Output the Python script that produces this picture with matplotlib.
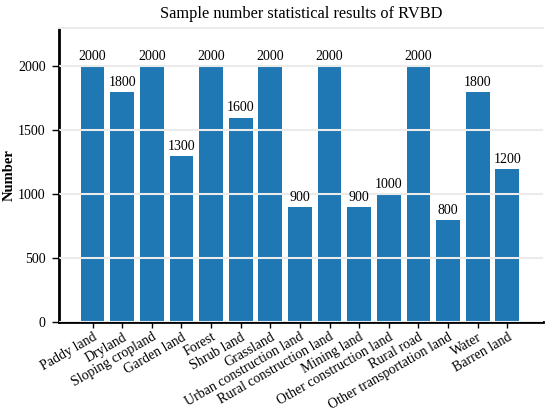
import matplotlib
matplotlib.use("Agg")
import matplotlib.pyplot as plt

categories = ["Paddy land", "Dryland", "Sloping cropland", "Garden land", "Forest",
              "Shrub land", "Grassland", "Urban construction land",
              "Rural construction land", "Mining land", "Other construction land",
              "Rural road", "Other transportation land", "Water", "Barren land"]
counts = [2000, 1800, 2000, 1300, 2000, 1600, 2000, 900, 2000, 900, 1000, 2000, 800, 1800, 1200]
yticks = [0, 500, 1000, 1500, 2000]

plt.rcParams['font.family'] = ['Liberation Serif', 'DejaVu Serif']

fig = plt.figure(figsize=(5.5, 4.12), dpi=100)
ax = fig.add_axes([0.108, 0.218, 0.879, 0.714])

xs = range(len(categories))
ax.bar(xs, counts, width=0.8, color='#1f77b4', zorder=1)
for x, v in zip(xs, counts):
    ax.text(x, v + 25, str(v), ha='center', va='bottom', fontsize=10)

ax.set_xlim(-1.12, 15.2)
ax.set_ylim(0, 2300)
ax.set_yticks(yticks)
ax.set_xticks(list(xs))
ax.set_xticklabels(categories, rotation=30, ha='right', rotation_mode='anchor', fontsize=10)
ax.tick_params(axis='y', labelsize=10, length=5, width=1, pad=5)
ax.tick_params(axis='x', length=4, width=1, pad=2)
ax.grid(axis='y', color='#ebebeb', linewidth=1.5, zorder=3)
ax.set_axisbelow(False)

ax.spines['right'].set_visible(False)
ax.spines['top'].set_color('#ebebeb')
ax.spines['top'].set_linewidth(1.5)
ax.spines['left'].set_linewidth(2)
ax.spines['bottom'].set_linewidth(2)

# y label placed by hand so it sits near the left edge like the original
fig.text(9 / 550, 0.575, "Number", rotation=90, ha='center', va='center',
         fontsize=10.5, fontweight='bold')
ax.set_title("Sample number statistical results of RVBD", fontsize=11.8, pad=7)

fig.savefig("out.png", dpi=100)
